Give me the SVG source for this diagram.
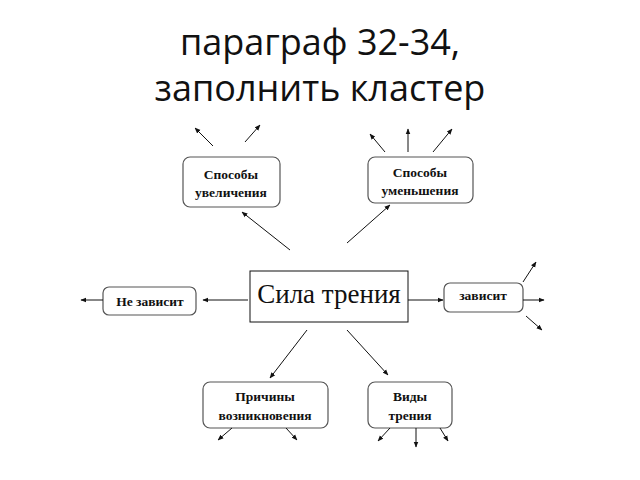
<svg xmlns="http://www.w3.org/2000/svg" width="640" height="480" viewBox="0 0 640 480">
<style>
.t{font-family:"Open Sans","DejaVu Sans",sans-serif;font-size:36px;fill:#111;text-anchor:middle}
.n{fill:#fff;stroke:#555;stroke-width:1.2}
.l{font-family:"Liberation Serif",serif;font-weight:bold;font-size:13.5px;fill:#111;text-anchor:middle}
.c line{stroke:#111;stroke-width:1;marker-end:url(#a)}
</style>
<defs><marker id="a" viewBox="0 0 10 10" refX="9" refY="5" markerWidth="6" markerHeight="6" orient="auto"><path d="M0,1L10,5L0,9z" fill="#111"/></marker></defs>
<rect width="640" height="480" fill="#fff"/>
<text class="t" x="320" y="55">параграф 32-34,</text>
<text class="t" x="320" y="101">заполнить кластер</text>
<g id="center"><rect x="250" y="271" width="158" height="51" fill="#fff" stroke="#111"/><text x="329" y="303" font-family="Liberation Serif,serif" font-size="27" text-anchor="middle" fill="#111">Сила трения</text></g>
<g id="n1"><rect class="n" x="183" y="157" width="97" height="50" rx="7"/><text class="l" x="231" y="179">Способы</text><text class="l" x="231" y="197">увеличения</text></g>
<g id="n2"><rect class="n" x="368" y="157" width="105" height="46" rx="7"/><text class="l" x="420" y="177">Способы</text><text class="l" x="420" y="195">уменьшения</text></g>
<g id="n3"><rect class="n" x="103" y="287" width="93" height="28" rx="6"/><text class="l" x="150" y="306">Не зависит</text></g>
<g id="n4"><rect class="n" x="444" y="283" width="79" height="29" rx="6"/><text class="l" x="483" y="300" font-size="11">зависит</text></g>
<g id="n5"><rect class="n" x="203" y="382" width="125" height="46" rx="7"/><text class="l" x="265" y="401">Причины</text><text class="l" x="265" y="420">возникновения</text></g>
<g id="n6"><rect class="n" x="368" y="382" width="84" height="46" rx="7"/><text class="l" x="410" y="401">Виды</text><text class="l" x="410" y="420">трения</text></g>
<g class="c">
<line x1="290" y1="250" x2="242" y2="212"/><line x1="347" y1="243" x2="390" y2="205"/>
<line x1="213" y1="146" x2="195" y2="128"/><line x1="245" y1="142" x2="260" y2="125"/>
<line x1="385" y1="152" x2="370" y2="134"/><line x1="408" y1="152" x2="408" y2="129"/><line x1="433" y1="152" x2="452" y2="129"/>
<line x1="248" y1="300" x2="203" y2="300"/><line x1="103" y1="300" x2="81" y2="300"/>
<line x1="408" y1="300" x2="443" y2="300"/>
<line x1="523" y1="300" x2="544" y2="300"/><line x1="523" y1="282" x2="536" y2="262"/><line x1="526" y1="316" x2="542" y2="330"/>
<line x1="307" y1="330" x2="270" y2="378"/><line x1="347" y1="330" x2="388" y2="375"/>
<line x1="232" y1="428" x2="218" y2="440"/><line x1="286" y1="428" x2="297" y2="440"/>
<line x1="390" y1="428" x2="378" y2="441"/><line x1="416" y1="428" x2="416" y2="447"/><line x1="440" y1="428" x2="448" y2="441"/>
</g>
</svg>
